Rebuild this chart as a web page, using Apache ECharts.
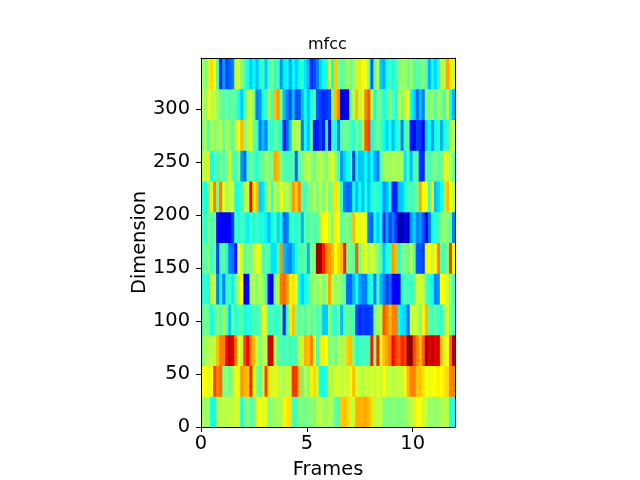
<!DOCTYPE html>
<html>
<head>
<meta charset="utf-8">
<title>mfcc</title>
<script src="https://cdn.jsdelivr.net/npm/echarts@6/dist/echarts.min.js"></script>
<style>
  html, body { margin: 0; padding: 0; background: #ffffff; }
  #main { width: 640px; height: 480px; }
</style>
</head>
<body>
<div id="main"></div>
<script>
// tick labels
var xTicks = [0, 5, 10];
var yTicks = [0, 50, 100, 150, 200, 250, 300];
var totalFrames = 12;
var totalDims = 348;

// values on a 0-8 jet scale, one list per band (bottom band first)
var band0 = [4.3,4.2,4.3,3.1,3.1,4.4,4.4,4.5,4.4,4.5,4.5,4.6,
  4.6,3.1,4,4,3.7,3.8,4.8,4.9,4.8,4.8,4,4.2,
  4.2,4.4,4.3,5,5.2,5.2,3.5,3.5,4,4,3.9,4,
  4.1,4,4.4,4.5,4.3,4.2,4.4,4.3,3.7,3.6,5.4,5.5,
  5.3,4.6,4.6,5.6,5.6,5.6,5.7,5.5,5.2,4.5,4.5,4.6,
  4,4,4,4.1,4,4,4,4.1,4.3,4.5,4.6,5,
  5,4.6,4.5,4.2,4.2,4.1,4.2,4.4,4.4,4.4,3.3,3.3];
var band1 = [5,5,4.7,5,6.5,6,6.2,4,4.2,3.8,4.3,5,
  4.6,5.8,5.6,5.5,6.8,5,4,3.7,4.5,6.5,5.2,4.6,
  5.1,4.4,4.5,4.3,4.6,4.5,6.6,6.6,5.5,3.7,4.5,4,
  5.1,5.3,4.5,3.1,3.1,3.4,4.5,4.3,4.7,4.6,4.5,4.8,
  4.5,5,5.5,4.7,4.5,4.4,4.6,4.5,4.7,4.5,4.8,4.5,
  5,4.5,4.6,4.4,4.5,4.6,4.5,5,5.6,6,6,5.4,
  5.5,5.2,5,4.8,5,5,5.1,5,5.2,5.3,6,6];
var band2 = [4,4.3,4.4,4.5,4.4,5.5,6,6,7,7.4,7.2,6,
  4.8,4.5,6.5,7,6,5.5,4.5,4,4.4,4.5,7.5,7.3,
  4.5,3.7,3.6,3.5,3.7,3.4,3.6,3.5,4.5,4.6,5.6,5.5,
  6,5,3.5,4.8,5.1,5,4,4.2,3.9,4.5,4.3,4.4,
  5.4,5.5,4,3.2,3.5,3.5,3.5,3.5,6.8,4,6.7,4.9,
  5.5,5.7,6,7,6.5,6.2,6.8,6.5,7.8,8,6.5,6,
  5.5,6.2,7.7,7.2,7.5,7.2,7.3,5.5,4.5,5,6.2,7.5];
var band3 = [3.6,4,3.8,3.1,3.7,4,3.6,4.2,3.7,2.6,3.8,3.3,
  3.5,3.7,3.1,3.3,3.3,3.6,3.5,3.7,5,4.5,3.4,3.6,
  3.4,3.5,3.7,1.2,3.3,5,5.5,4,3.7,4,3.6,4.2,
  3.7,4,3.6,3.8,2.6,2.6,4,3.5,3.3,4,2.5,3.6,
  3.8,3.6,3.7,1.6,1.3,1.5,1.4,1.4,1.6,4,4.3,4.4,
  6.3,6,5.5,6,6,3.1,2.8,2.7,1.8,4.5,4.7,4.5,
  4,5,5.6,3.7,3.5,3.7,3.5,3.3,4.3,4.6,4,3.6];
var band4 = [3.2,3.4,3.2,4.6,4.4,2,3.1,2,3.3,3.5,2.9,3.8,
  4.7,5,1,1,4.2,4.4,4,4.5,4.2,3.5,0.9,0.9,
  4,4.5,6,6.2,5.8,4.8,5.2,4.8,3.1,2.6,3.1,3.5,
  4,4.3,4.1,4.5,4,4.4,5.7,4.5,4.2,4.3,4,3.7,
  1.8,1.8,2.5,3.1,2.3,2,2,3,3.3,2,3.5,2.5,
  2,1.5,1.8,0.95,0.95,1,3.3,3.6,3.5,3.4,3.7,4.7,
  4.6,4.5,3.6,3.3,3.1,2,2.2,5,5,4.6,4.2,3.6];
var band5 = [3.6,3.8,4,3.5,3.8,1.5,3.5,3.8,3.2,2,1.9,1.2,
  5,4.5,3.7,4,3.8,4.5,4.8,4.8,3.5,3.7,3.6,2.8,
  2.8,3.5,5.8,2.5,2.2,2,2.6,3.1,3.7,3.5,3.7,2.4,
  4,4,7.8,7.7,6.8,6,5.8,5.5,5,5.3,5.5,6.8,
  3.9,4,3.7,6.3,4,4.5,4.8,4.3,4.7,4.4,4,3.6,
  2.6,3.2,3.5,5.8,5.5,3.2,4,4,3.8,4.5,3.7,1.7,
  1.7,1.5,4.8,5,4.5,5,6,3.7,3.5,4,6.5,5];
var band6 = [3.7,3.4,4,3.6,3.8,1,0.95,0.95,0.95,1,1.5,3.5,
  3.2,3.6,3.3,2.9,3.5,3.2,3.5,3.2,3.3,2.9,2.5,3.1,
  3.5,2.7,3.1,1.7,2,3.1,3.5,3.2,3.5,2.4,3.7,3.5,
  3.8,3.6,3.7,4.5,5,5,4.5,4,5.1,4.9,3.7,4,
  4,3.7,5.5,5,4.7,5,4.7,2,1.8,3.1,2.6,3.1,
  1.3,2.3,1.5,2,1.3,0.5,0.3,1,0.5,2.2,2.7,2,
  2.2,1.7,0.9,1.9,3.1,3.3,3.5,4,4.2,4,3.8,2];
var band7 = [3.5,3.2,4,4.8,6,4,6,4.7,4.3,4.5,4.8,3.1,
  3.3,3.5,4.5,4.5,7,5,5.5,2.6,2.8,3.7,4.6,3.5,
  4.5,4,5,4.3,4.5,4,5.8,5.4,6,3.7,3.5,4,
  4,4.5,4,4.5,4,4.7,4,4.2,5.2,4.5,3.5,2,
  1.8,1.9,3.1,2.5,3.1,2.5,3.2,2.6,3.2,3.5,3.2,3.1,
  2.2,2.5,3.1,1.2,1.3,2.5,2.6,3.1,3.7,3.5,3.6,3.8,
  5.7,5,5,3.5,5,2.5,2.7,3.1,4.4,5.5,5,4.5];
var band8 = [4.5,4.5,5.2,3.1,3.7,3.5,4,3.6,4,4.6,3.7,3.5,
  4,2.2,1.8,3.5,3.8,3.6,3.2,3.8,3.7,4.3,4,4,
  5.7,5.5,4,3.6,3.5,3.6,3.7,1.8,3.7,4,4.3,4.5,
  4.2,3.8,4.3,4.5,4.2,4,4.5,4.8,4.2,3.5,2.2,2.7,
  3.1,3.5,1.5,3.1,2.5,2.6,3.1,2.5,3.1,2.4,2,3.6,
  4.3,4.3,4.2,4.4,4.3,4.3,4.3,2.8,3.5,2.5,3.6,3.6,
  1.3,1.3,3.8,3.6,3.8,4,3.6,3.8,5,4.6,4.5,3.8];
var band9 = [4,4.2,3.6,4.4,4,4.2,4.5,3.8,4.5,4,3.7,4.5,
  5,5.6,4,4.5,4.8,3.8,3.5,2,2.5,2,3.5,3.3,
  3.8,3.5,3.2,0.9,1.8,2.7,4.4,4.4,4.4,2,3.1,2.5,
  3.6,1,1.2,1.5,1.2,3.1,1,3.5,3.2,2,3.7,3.8,
  3.8,3.5,3.3,4,3.5,4.4,6.3,6.5,3.2,3.5,4,3.5,
  3.1,2.7,3.2,2.5,3.1,3.5,2,3.5,3.7,1.2,1,1.5,
  1.4,0.9,2.7,3.1,2.2,3.1,3.5,2.4,3.2,3.4,4.3,4.4];
var band10 = [4.5,4.2,5,4.5,4.5,4.2,3.8,3.7,3.8,3.6,3.8,3.7,
  3.1,2.6,3.5,4.5,4.6,4,2,2.2,3.1,3.5,4.3,3.5,
  5.5,5.8,4,2.5,2,1.6,2.5,1.5,1.7,2.5,3.1,2.5,
  3.2,3.7,1.7,1.5,1.3,1.4,1.6,4,5.5,6,0.7,0.8,
  0.9,3.8,4.5,5.5,4.5,4.8,6,6.3,4.5,3.1,4,3.7,
  3.2,3.5,4,3.6,3.2,4.5,4,4.5,5,3.1,2.7,1.8,
  2.5,2,4,4,4.2,3.7,4.3,4,3.5,4.5,3.1,2.4];
var band11 = [4.5,4,4.7,5.3,5,3.5,1.3,2.2,1.5,1.8,2,4.5,
  4.7,4,3.6,3.1,2.6,3,2.5,3.2,3.5,2.6,3.5,4,
  3.3,3.7,2.2,2.9,3,2.3,3,2.6,3.1,3.5,2.8,2.4,
  1.3,1.6,2,2.7,3,3.4,4.5,3.1,5.4,4,3.7,3.8,
  4.3,3.8,4.2,4.5,5.2,4.8,4.9,4,1.8,3.8,4.5,2.6,
  2.4,3.1,3.6,3.1,3.6,4,4.2,4.3,3.8,4.3,3.6,3.7,
  3.8,4,3.6,2.4,3.1,2.7,3.2,4.5,4.3,5.7,5.2,4.6];
var bands = [band0, band1, band2, band3, band4, band5, band6, band7, band8, band9, band10, band11];

var jet = ['#00007f', '#0000ff', '#007fff', '#00ffff', '#7fff7f', '#ffff00', '#ff7f00', '#ff0000', '#7f0000'];

var cells = [];
var bandHeight = totalDims / bands.length;
bands.forEach(function (band, b) {
  var frameWidth = totalFrames / band.length;
  band.forEach(function (v, i) {
    cells.push([i * frameWidth, (i + 1) * frameWidth, b * bandHeight, (b + 1) * bandHeight, v]);
  });
});

function renderCell(params, api) {
  var p0 = api.coord([api.value(0), api.value(3)]);
  var p1 = api.coord([api.value(1), api.value(2)]);
  // 1px overlap so no white seams show up between the cells
  return {
    type: 'rect',
    shape: { x: p0[0], y: p0[1] - 0.5, width: p1[0] - p0[0] + 1, height: p1[1] - p0[1] + 1 },
    style: { fill: api.visual('color') }
  };
}

var fontName = 'DejaVu Sans';
var black = '#000000';

function mainAxis(pos, max, ticks, name, gap, labelMargin, labelPadding) {
  return {
    type: 'value',
    position: pos,
    min: 0,
    max: max,
    z: 10,
    name: name,
    nameLocation: 'middle',
    nameGap: gap,
    nameTextStyle: { fontFamily: fontName, fontSize: 19.4, color: black },
    axisLine: { show: true, onZero: false, lineStyle: { color: black, width: 1 } },
    axisTick: { show: true, length: 5, customValues: ticks, lineStyle: { color: black, width: 1 } },
    axisLabel: { show: true, customValues: ticks, margin: labelMargin, padding: labelPadding, fontFamily: fontName, fontSize: 19.4, color: black },
    splitLine: { show: false }
  };
}

function borderAxis(pos, max) {
  return {
    type: 'value',
    position: pos,
    min: 0,
    max: max,
    z: 10,
    axisLine: { show: true, onZero: false, lineStyle: { color: black, width: 1 } },
    axisTick: { show: false },
    axisLabel: { show: false },
    splitLine: { show: false }
  };
}

var chart = echarts.init(document.getElementById('main'), null, { renderer: 'canvas', width: 640, height: 480 });
chart.setOption({
  backgroundColor: '#ffffff',
  animation: false,
  title: {
    text: 'mfcc',
    left: 308,
    top: 37,
    padding: 0,
    textStyle: { fontFamily: fontName, fontSize: 16, fontWeight: 'normal', color: black }
  },
  grid: { left: 201, top: 58, width: 254, height: 369, containLabel: false, outerBoundsMode: 'none' },
  xAxis: [mainAxis('bottom', totalFrames, xTicks, 'Frames', 33, 7, 0), borderAxis('top', totalFrames)],
  yAxis: [mainAxis('left', totalDims, yTicks, 'Dimension', 48, 11, [6, 0, 0, 0]), borderAxis('right', totalDims)],
  visualMap: {
    show: false,
    type: 'continuous',
    seriesIndex: 0,
    dimension: 4,
    min: 0,
    max: 8,
    inRange: { color: jet }
  },
  series: [{
    type: 'custom',
    coordinateSystem: 'cartesian2d',
    xAxisIndex: 0,
    yAxisIndex: 0,
    clip: true,
    silent: true,
    encode: { x: [0, 1], y: [2, 3] },
    renderItem: renderCell,
    data: cells
  }]
});
</script>
</body>
</html>
